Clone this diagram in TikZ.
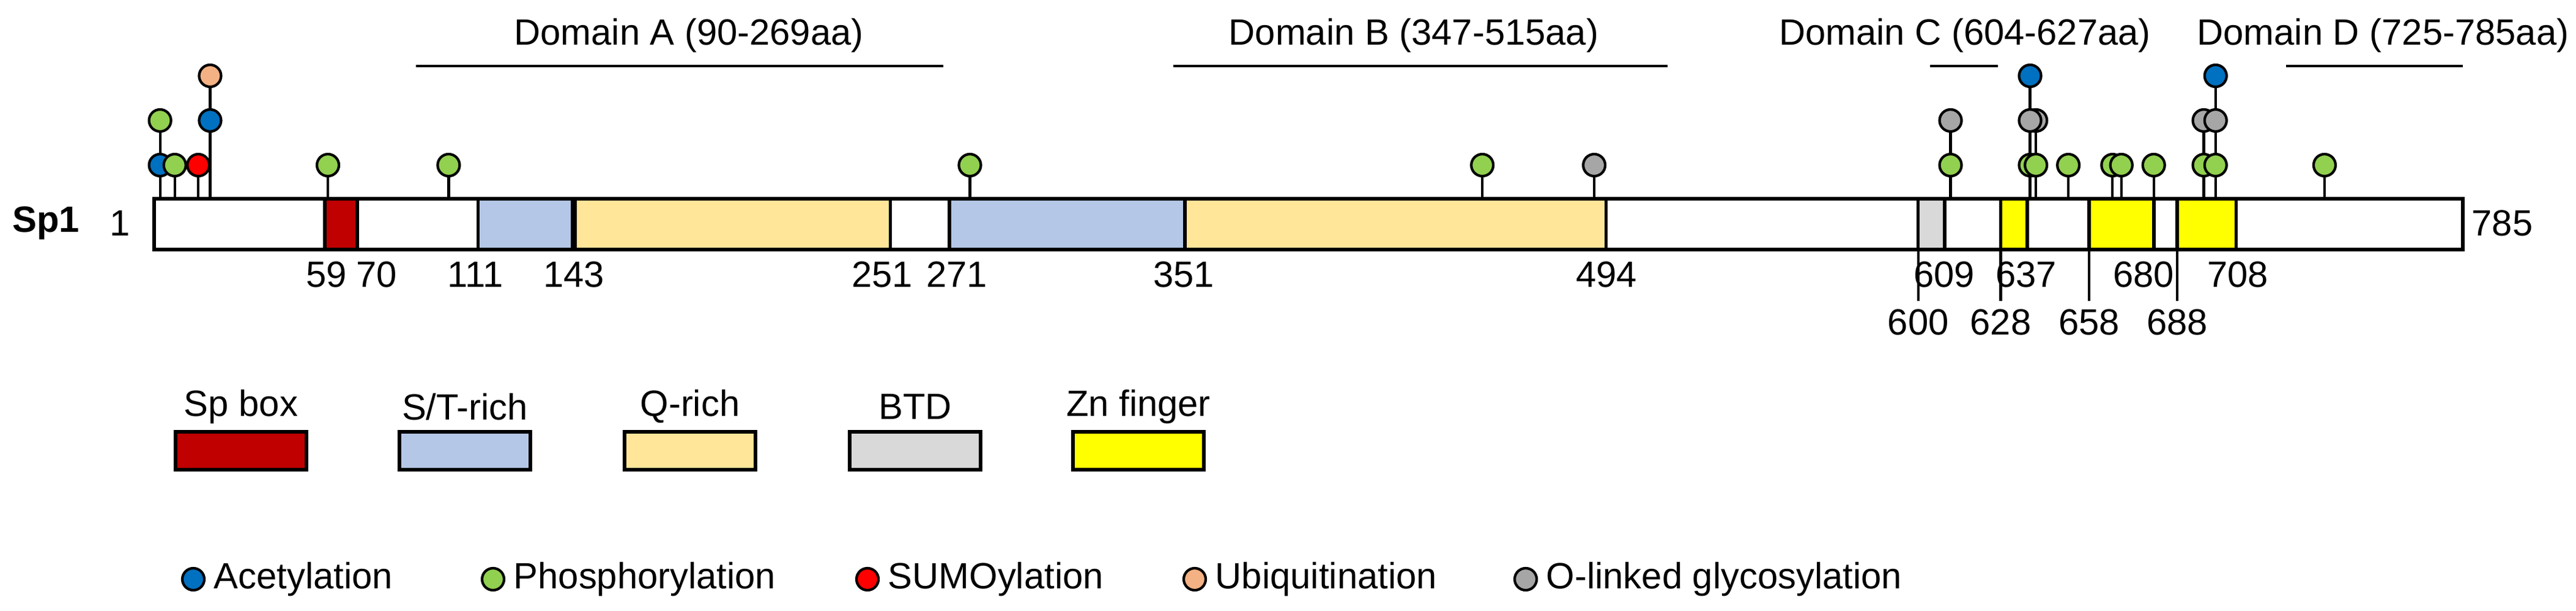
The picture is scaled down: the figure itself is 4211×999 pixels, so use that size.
\documentclass[tikz,border=0pt]{standalone}
\usepackage{fontspec}
\setmainfont{Liberation Sans}
\usetikzlibrary{positioning}
\definecolor{spred}{HTML}{C00000}
\definecolor{stblue}{HTML}{B4C7E7}
\definecolor{qyel}{HTML}{FFE699}
\definecolor{btdgray}{HTML}{D9D9D9}
\definecolor{znyel}{HTML}{FFFF00}
\definecolor{acet}{HTML}{0070C0}
\definecolor{phos}{HTML}{92D050}
\definecolor{sumo}{HTML}{FF0000}
\definecolor{ubiq}{HTML}{F4B183}
\definecolor{glyc}{HTML}{A6A6A6}
\tikzset{
  lbl/.style={font=\fontsize{17}{20}\selectfont, inner sep=0pt},
  pop/.style={circle, draw, line width=1.2pt, minimum size=3.6mm, inner sep=0pt},
  seg/.style={draw, line width=1.6pt},
}
% aa -> pixel
\newcommand{\ax}[1]{{252+(#1-1)*4.814}}
\begin{document}
\begin{tikzpicture}[x=0.1mm,y=-0.1mm]
\useasboundingbox (0,0) rectangle (4211,999);

%Domaenen
\foreach \a/\b/\t/\c/\s in {90/269/Domain A (90-269aa)/1126/center, 347/515/Domain B (347-515aa)/2311/center,
                        604/627/Domain C (604-627aa)/3212/center, 725/785/Domain D (725-785aa)/4200/east}{
  \draw[line width=1.2pt] (\ax{\a},108) -- (\ax{\b},108);
  \node[lbl, anchor=\s] at (\c,58) {\t};
}

%Modifikationen
\foreach \p/\l/\c [count=\i] in {3/2/phos, 20/3/ubiq, 638/3/acet, 640/2/glyc, 697/2/glyc, 701/3/acet,
    611/2/glyc, 3/1/acet, 8/1/phos, 16/1/sumo, 20/2/acet, 60/1/phos, 101/1/phos, 278/1/phos,
    452/1/phos, 490/1/glyc, 611/1/phos, 638/2/glyc, 638/1/phos, 640/1/phos, 651/1/phos,
    666/1/phos, 669/1/phos, 680/1/phos, 697/1/phos, 701/2/glyc, 701/1/phos, 738/1/phos}{
  \coordinate (t\i) at (\ax{\p},325);
  \node[pop, fill=\c] (m\i) at (\ax{\p},{270-(\l-1)*73}) {};
  \draw[line width=1.2pt] (t\i) -- (m\i);
}

%Protein
\draw[seg] (\ax{1},325) rectangle (\ax{785},408);
\foreach \a/\b/\c in {59/70/spred, 111/143/stblue, 144/251/qyel, 271/351/stblue, 351/494/qyel,
                      600/609/btdgray, 628/637/znyel, 658/680/znyel, 688/708/znyel}{
  \draw[seg, fill=\c] (\ax{\a},325) rectangle (\ax{\b},408);
}
\node[lbl, font=\fontsize{17}{20}\selectfont\bfseries] (name) at (75,365) {Sp1};
\node[lbl] (start) at (196,365) {1};
\node[lbl, anchor=west] (end) at (4040,365) {785};

%Zahlen
\foreach \x/\t in {534/59, 616/70, 777/111, 938/143, 1442/251, 1564/271, 1935/351, 2626/494,
                   3178/609, 3312/637, 3504/680, 3658/708}{
  \node[lbl] at (\x,449) {\t};
}
\foreach \p in {600,628,658,688}{
  \draw[line width=1.2pt] (\ax{\p},408) -- (\ax{\p},492);
  \node[lbl] at (\ax{\p},527) {\p};
}

%Legende
\foreach \x/\c/\t in {287/spred/Sp box, 653/stblue/{S/T-rich}, 1021/qyel/Q-rich, 1389/btdgray/BTD, 1754/znyel/Zn finger}{
  \draw[seg, fill=\c] (\x,706) rectangle ++(214,62);
  \node[lbl] at ({\x+107},665) {\t};
}
\foreach \x/\c/\t in {316/acet/Acetylation, 806/phos/Phosphorylation, 1418/sumo/SUMOylation,
                      1953/ubiq/Ubiquitination, 2494/glyc/O-linked glycosylation}{
  \node[pop, fill=\c] (k\x) at (\x,947) {};
  \node[lbl, right=1.3mm of k\x] {\t};
}
\end{tikzpicture}
\end{document}
